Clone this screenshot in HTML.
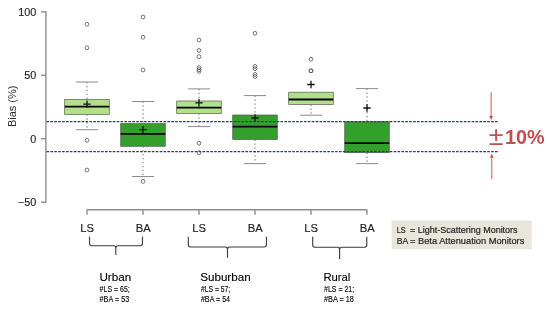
<!DOCTYPE html>
<html><head><meta charset="utf-8"><title>Bias boxplot</title>
<style>
html,body{margin:0;padding:0;background:#fff;}
svg{display:block;}
text{font-family:"Liberation Sans",sans-serif;}
</style></head><body>
<svg width="550" height="310" viewBox="0 0 550 310">
<rect width="550" height="310" fill="#fff"/>

<g stroke="#8e8e8e" stroke-width="1.4" fill="none">
<path d="M45.9 11.2V202.9"/>
<path d="M41 11.9H46"/>
<path d="M41 75.2H46"/>
<path d="M41 138.7H46"/>
<path d="M41 202.2H46"/>
<path d="M87 209.7H367"/>
<path d="M87 209.7V214.8"/>
<path d="M143 209.7V214.8"/>
<path d="M199 209.7V214.8"/>
<path d="M255 209.7V214.8"/>
<path d="M311 209.7V214.8"/>
<path d="M367 209.7V214.8"/>
</g>
<g font-size="10.8" fill="#1c1c1c" stroke="#1c1c1c" stroke-width="0.15" text-anchor="end">
<text x="36.2" y="15.6">100</text>
<text x="36.2" y="79.0">50</text>
<text x="36.2" y="142.6">0</text>
<text x="36.2" y="205.9">−50</text>
</g>
<text font-size="11" fill="#2b2b2b" text-anchor="middle" transform="translate(16.1 106.3) rotate(-90)">Bias (%)</text>
<path d="M87 82.0V99.5" stroke="#6e6e6e" stroke-width="1" stroke-dasharray="1.4 2.5" fill="none"/>
<path d="M75.9 82.0H98.1" stroke="#8c8c8c" stroke-width="1" fill="none"/>
<path d="M87 114.5V129.7" stroke="#6e6e6e" stroke-width="1" stroke-dasharray="1.4 2.5" fill="none"/>
<path d="M75.9 129.7H98.1" stroke="#8c8c8c" stroke-width="1" fill="none"/>
<rect x="64.7" y="99.5" width="44.6" height="15.0" fill="#b2df8a" stroke="#5a5a5a" stroke-width="0.7"/>
<path d="M64.7 106.7H109.3" stroke="#000" stroke-width="1.8" fill="none"/>
<circle cx="87" cy="24.3" r="1.9" fill="none" stroke="#555" stroke-width="0.8"/>
<circle cx="87" cy="47.8" r="1.9" fill="none" stroke="#555" stroke-width="0.8"/>
<circle cx="87" cy="140.2" r="1.9" fill="none" stroke="#555" stroke-width="0.8"/>
<circle cx="87" cy="170" r="1.9" fill="none" stroke="#555" stroke-width="0.8"/>
<path d="M83.3 104.1H90.7M87 100.39999999999999V107.8" stroke="#111" stroke-width="1.3" fill="none"/>
<path d="M143 101.5V123.5" stroke="#6e6e6e" stroke-width="1" stroke-dasharray="1.4 2.5" fill="none"/>
<path d="M131.9 101.5H154.1" stroke="#8c8c8c" stroke-width="1" fill="none"/>
<path d="M143 146.3V176.5" stroke="#6e6e6e" stroke-width="1" stroke-dasharray="1.4 2.5" fill="none"/>
<path d="M131.9 176.5H154.1" stroke="#8c8c8c" stroke-width="1" fill="none"/>
<rect x="120.7" y="123.5" width="44.6" height="22.8" fill="#33a02c" stroke="#5a5a5a" stroke-width="0.7"/>
<path d="M120.7 133.8H165.3" stroke="#000" stroke-width="1.8" fill="none"/>
<circle cx="143" cy="17" r="1.9" fill="none" stroke="#555" stroke-width="0.8"/>
<circle cx="143" cy="37.2" r="1.9" fill="none" stroke="#555" stroke-width="0.8"/>
<circle cx="143" cy="70" r="1.9" fill="none" stroke="#555" stroke-width="0.8"/>
<circle cx="143" cy="181.4" r="1.9" fill="none" stroke="#555" stroke-width="0.8"/>
<path d="M139.3 129.7H146.7M143 125.99999999999999V133.39999999999998" stroke="#111" stroke-width="1.3" fill="none"/>
<path d="M199 88.9V101" stroke="#6e6e6e" stroke-width="1" stroke-dasharray="1.4 2.5" fill="none"/>
<path d="M187.9 88.9H210.1" stroke="#8c8c8c" stroke-width="1" fill="none"/>
<path d="M199 113.4V126.6" stroke="#6e6e6e" stroke-width="1" stroke-dasharray="1.4 2.5" fill="none"/>
<path d="M187.9 126.6H210.1" stroke="#8c8c8c" stroke-width="1" fill="none"/>
<rect x="176.7" y="101" width="44.6" height="12.4" fill="#b2df8a" stroke="#5a5a5a" stroke-width="0.7"/>
<path d="M176.7 107.7H221.3" stroke="#000" stroke-width="1.8" fill="none"/>
<circle cx="199" cy="40" r="1.9" fill="none" stroke="#555" stroke-width="0.8"/>
<circle cx="199" cy="50.4" r="1.9" fill="none" stroke="#555" stroke-width="0.8"/>
<circle cx="199" cy="56.6" r="1.9" fill="none" stroke="#555" stroke-width="0.8"/>
<circle cx="199" cy="67.7" r="1.9" fill="none" stroke="#555" stroke-width="0.8"/>
<circle cx="199" cy="69.7" r="1.9" fill="none" stroke="#555" stroke-width="0.8"/>
<circle cx="199" cy="71.3" r="1.9" fill="none" stroke="#555" stroke-width="0.8"/>
<circle cx="199" cy="143.2" r="1.9" fill="none" stroke="#555" stroke-width="0.8"/>
<circle cx="199" cy="152.7" r="1.9" fill="none" stroke="#555" stroke-width="0.8"/>
<path d="M195.3 102.8H202.7M199 99.1V106.5" stroke="#111" stroke-width="1.3" fill="none"/>
<path d="M255 95.6V115" stroke="#6e6e6e" stroke-width="1" stroke-dasharray="1.4 2.5" fill="none"/>
<path d="M243.9 95.6H266.1" stroke="#8c8c8c" stroke-width="1" fill="none"/>
<path d="M255 139.6V163.6" stroke="#6e6e6e" stroke-width="1" stroke-dasharray="1.4 2.5" fill="none"/>
<path d="M243.9 163.6H266.1" stroke="#8c8c8c" stroke-width="1" fill="none"/>
<rect x="232.7" y="115" width="44.6" height="24.6" fill="#33a02c" stroke="#5a5a5a" stroke-width="0.7"/>
<path d="M232.7 126.6H277.3" stroke="#000" stroke-width="1.8" fill="none"/>
<circle cx="255" cy="33.3" r="1.9" fill="none" stroke="#555" stroke-width="0.8"/>
<circle cx="255" cy="66.4" r="1.9" fill="none" stroke="#555" stroke-width="0.8"/>
<circle cx="255" cy="68.7" r="1.9" fill="none" stroke="#555" stroke-width="0.8"/>
<circle cx="255" cy="74.4" r="1.9" fill="none" stroke="#555" stroke-width="0.8"/>
<circle cx="255" cy="76.5" r="1.9" fill="none" stroke="#555" stroke-width="0.8"/>
<path d="M251.3 118H258.7M255 114.3V121.7" stroke="#111" stroke-width="1.3" fill="none"/>
<path d="M311 104.6V115.2" stroke="#6e6e6e" stroke-width="1" stroke-dasharray="1.4 2.5" fill="none"/>
<path d="M299.9 115.2H322.1" stroke="#8c8c8c" stroke-width="1" fill="none"/>
<rect x="288.7" y="92.2" width="44.6" height="12.4" fill="#b2df8a" stroke="#5a5a5a" stroke-width="0.7"/>
<path d="M288.7 99.5H333.3" stroke="#000" stroke-width="1.8" fill="none"/>
<circle cx="311" cy="59.2" r="1.9" fill="none" stroke="#555" stroke-width="0.8"/>
<circle cx="311" cy="70.8" r="1.9" fill="none" stroke="#555" stroke-width="0.8"/>
<circle cx="311" cy="70.8" r="1.9" fill="none" stroke="#555" stroke-width="0.8"/>
<path d="M307.3 84.5H314.7M311 80.8V88.2" stroke="#111" stroke-width="1.3" fill="none"/>
<path d="M367 88.6V121.7" stroke="#6e6e6e" stroke-width="1" stroke-dasharray="1.4 2.5" fill="none"/>
<path d="M355.9 88.6H378.1" stroke="#8c8c8c" stroke-width="1" fill="none"/>
<path d="M367 152.7V163.6" stroke="#6e6e6e" stroke-width="1" stroke-dasharray="1.4 2.5" fill="none"/>
<path d="M355.9 163.6H378.1" stroke="#8c8c8c" stroke-width="1" fill="none"/>
<rect x="344.7" y="121.7" width="44.6" height="31.0" fill="#33a02c" stroke="#5a5a5a" stroke-width="0.7"/>
<path d="M344.7 143.1H389.3" stroke="#000" stroke-width="1.8" fill="none"/>
<path d="M363.3 108H370.7M367 104.3V111.7" stroke="#111" stroke-width="1.3" fill="none"/>
<path d="M46.5 121.7H499" stroke="#27378a" stroke-width="1.2" stroke-dasharray="2.6 1.3" fill="none"/>
<path d="M46.5 151.6H499" stroke="#27378a" stroke-width="1.2" stroke-dasharray="2.6 1.3" fill="none"/>
<g stroke="#cc6a68" stroke-width="1.1" fill="#c0504d">
<path d="M491.1 92.3V117"/><path d="M491.1 120L489.3 116H492.9Z" stroke="none"/>
<path d="M491.8 179.2V157"/><path d="M491.8 153.6L490 157.7H493.6Z" stroke="none"/>
</g>
<text transform="translate(488.8 145.1) scale(1 1.36)" font-size="19.5" fill="#c0504d" textLength="14.8" lengthAdjust="spacingAndGlyphs">±</text>
<text x="505.1" y="143.7" font-size="20.5" font-weight="bold" fill="#c0504d" textLength="39.6" lengthAdjust="spacingAndGlyphs">10%</text>
<g font-size="11.2" fill="#222" stroke="#222" stroke-width="0.15" text-anchor="middle">
<text x="87" y="232.2">LS</text>
<text x="143.2" y="232.2">BA</text>
<text x="199" y="232.2">LS</text>
<text x="255.2" y="232.2">BA</text>
<text x="311" y="232.2">LS</text>
<text x="367.2" y="232.2">BA</text>
</g>
<path d="M89.5 236.4V243.60000000000002Q89.5 245.8 91.7 245.8H113.6Q115.8 245.8 115.8 248.0V254.9M115.8 248.0Q115.8 245.8 118.0 245.8H140.3Q142.5 245.8 142.5 243.60000000000002V236.4" stroke="#3a3a3a" stroke-width="1.1" fill="none"/>
<path d="M188.3 236.7V244.8Q188.3 247 190.5 247H225.3Q227.5 247 227.5 249.2V257.8M227.5 249.2Q227.5 247 229.7 247H264.2Q266.4 247 266.4 244.8V236.7" stroke="#3a3a3a" stroke-width="1.1" fill="none"/>
<path d="M312.7 236.7V245.10000000000002Q312.7 247.3 314.9 247.3H337.40000000000003Q339.6 247.3 339.6 249.5V258.9M339.6 249.5Q339.6 247.3 341.8 247.3H364.6Q366.8 247.3 366.8 245.10000000000002V236.7" stroke="#3a3a3a" stroke-width="1.1" fill="none"/>
<text x="99.4" y="280.6" font-size="11.7" fill="#000" stroke="#000" stroke-width="0.12" textLength="31.8" lengthAdjust="spacingAndGlyphs">Urban</text>
<text x="99.6" y="291.6" font-size="8.7" fill="#000" stroke="#000" stroke-width="0.12" textLength="30.2" lengthAdjust="spacingAndGlyphs">#LS = 65;</text>
<text x="99.6" y="302" font-size="8.7" fill="#000" stroke="#000" stroke-width="0.12" textLength="29.6" lengthAdjust="spacingAndGlyphs">#BA = 53</text>
<text x="200.2" y="280.6" font-size="11.7" fill="#000" stroke="#000" stroke-width="0.12" textLength="50.5" lengthAdjust="spacingAndGlyphs">Suburban</text>
<text x="200.9" y="291.6" font-size="8.7" fill="#000" stroke="#000" stroke-width="0.12" textLength="29.3" lengthAdjust="spacingAndGlyphs">#LS = 57;</text>
<text x="200.9" y="302" font-size="8.7" fill="#000" stroke="#000" stroke-width="0.12" textLength="29.2" lengthAdjust="spacingAndGlyphs">#BA = 54</text>
<text x="323.4" y="280.6" font-size="11.7" fill="#000" stroke="#000" stroke-width="0.12" textLength="27" lengthAdjust="spacingAndGlyphs">Rural</text>
<text x="324" y="291.6" font-size="8.7" fill="#000" stroke="#000" stroke-width="0.12" textLength="30.2" lengthAdjust="spacingAndGlyphs">#LS = 21;</text>
<text x="324" y="302" font-size="8.7" fill="#000" stroke="#000" stroke-width="0.12" textLength="29.8" lengthAdjust="spacingAndGlyphs">#BA = 18</text>
<rect x="391.6" y="220.5" width="140.2" height="28.8" fill="#e8e6dc"/>
<text x="396.8" y="232.6" font-size="9.4" fill="#1e1e1e" stroke="#1e1e1e" stroke-width="0.2" textLength="8.9" lengthAdjust="spacingAndGlyphs">LS</text>
<text x="410.0" y="232.6" font-size="9.4" fill="#1e1e1e" stroke="#1e1e1e" stroke-width="0.2" textLength="107.6" lengthAdjust="spacingAndGlyphs">= Light-Scattering Monitors</text>
<text x="396.8" y="243.9" font-size="9.4" fill="#1e1e1e" stroke="#1e1e1e" stroke-width="0.2" textLength="11.5" lengthAdjust="spacingAndGlyphs">BA</text>
<text x="410.0" y="243.9" font-size="9.4" fill="#1e1e1e" stroke="#1e1e1e" stroke-width="0.2" textLength="114.3" lengthAdjust="spacingAndGlyphs">= Beta Attenuation Monitors</text>
</svg></body></html>
